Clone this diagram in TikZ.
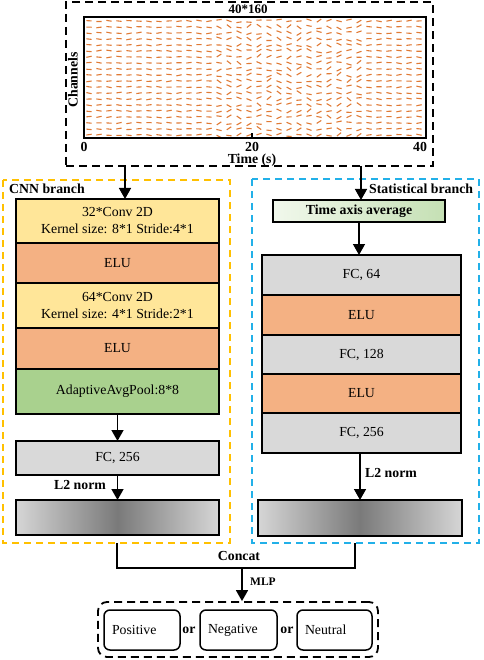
\documentclass[tikz,border=0pt]{standalone}
\usepackage{fontspec}
\setmainfont{Liberation Serif}
\usetikzlibrary{arrows.meta}
\definecolor{convY}{HTML}{FFE699}
\definecolor{eluO}{HTML}{F4B183}
\definecolor{poolG}{HTML}{A9D18E}
\definecolor{fcG}{HTML}{D9D9D9}
\definecolor{cnnY}{HTML}{FFC000}
\definecolor{statB}{HTML}{22B0E8}
\definecolor{tavgL}{HTML}{F1F8EC}
\definecolor{tavgR}{HTML}{C5E0B4}
\definecolor{gradE}{HTML}{D6D6D6}
\definecolor{gradM}{HTML}{7A7A7A}
\definecolor{dashO}{HTML}{E07A35}
\newcommand\myfs{\fontsize{13.8}{17}\selectfont}
\newcommand\mybf{\fontsize{13.8}{15}\selectfont\bfseries}
\begin{document}
\begin{tikzpicture}[x=1pt,y=-1pt,
  blk/.style={draw=black, line width=1.2pt, inner sep=0pt, outer sep=0pt, align=center, font=\myfs},
  cnnw/.style={blk, minimum width=203pt},
  statw/.style={blk, minimum width=199pt},
  gradbox/.style={blk, shading=axis, left color=gradE, right color=gradE, middle color=gradM},
  lbl/.style={font=\mybf, inner sep=0pt},
  arr/.style={-{Triangle[length=11pt,width=12pt]}, line width=1.5pt},
  conn/.style={line width=1.5pt},
  outbox/.style={draw=black, line width=1.5pt, rounded corners=6pt, minimum height=40pt, inner xsep=8pt, inner ysep=0pt, align=left, font=\myfs},
  bigdash/.style={line width=1.8pt, dash pattern=on 8pt off 5pt}
]
\useasboundingbox (0,0) rectangle (483,660);

% ---------- top panel ----------
\node[draw=black, bigdash, minimum width=367pt, minimum height=164pt, inner sep=0pt] (top) at (249.5,84) {};
\node[draw=black, line width=1.5pt, minimum width=342pt, minimum height=121pt, inner sep=0pt] (plot) at (255,77.5) {};
\pgfmathsetseed{7}
\begin{scope}
\clip (85,18) rectangle (425,137);
\foreach \i in {0,...,19}{
  \foreach \j in {0,...,33}{
    \pgfmathsetmacro\ang{(\j>12 && \j<28) ? 40*rand : 12*rand}
    \pgfmathsetmacro\dy{(\j>12 && \j<28) ? 1.5*rand : 0.5*rand}
    \draw[dashO, line width=1.1pt] ({89+10*\j},{21+6*\i+\dy}) ++(\ang:-2.7) -- ++(\ang:5.4);
  }
}
\end{scope}
\draw[line width=1.2pt] (252,138) -- (252,133);
\node[lbl, font=\fontsize{13}{15}\selectfont\bfseries] (dims) at (248,9) {40*160};
\node[lbl, rotate=90] (chan) at (73,80) {Channels};
\node[lbl] (t0) at (84,146.5) {0};
\node[lbl] (t20) at (252,146.5) {20};
\node[lbl] (t40) at (420,146.5) {40};
\node[lbl] (tlab) at (252,160) {Time (s)};

% ---------- CNN branch ----------
\draw[cnnY, bigdash, dash pattern=on 7pt off 5pt] (3,180) rectangle (230,543);
\node[lbl, anchor=west] (cnnlab) at (9,189) {CNN branch};
\node[cnnw, fill=convY, minimum height=44pt] (conv1) at (117.5,221) {32*Conv 2D\\Kernel size: 8*1 Stride:4*1};
\node[cnnw, fill=eluO, minimum height=40pt] (elu1) at (117.5,263) {ELU};
\node[cnnw, fill=convY, minimum height=45pt] (conv2) at (117.5,305.5) {64*Conv 2D\\Kernel size: 4*1 Stride:2*1};
\node[cnnw, fill=eluO, minimum height=41pt] (elu2) at (117.5,348.5) {ELU};
\node[cnnw, fill=poolG, minimum height=45pt] (pool) at (117.5,391.5) {AdaptiveAvgPool:8*8};
\node[cnnw, fill=fcG, minimum height=34pt] (fc1) at (117.5,458) {FC, 256};
\node[cnnw, gradbox, minimum height=35pt] (g1) at (117.5,517.5) {};
\node[lbl] (l2a) at (80,485) {L2 norm};

% ---------- Statistical branch ----------
\draw[statB, bigdash, dash pattern=on 7pt off 5pt] (252,179) rectangle (479,543);
\node[lbl, anchor=west] (statlab) at (369,189) {Statistical branch};
\node[blk, font=\mybf, minimum width=172pt, minimum height=22pt, left color=tavgL, right color=tavgR] (tavg) at (359,211) {Time axis average};
\node[statw, fill=fcG, minimum height=40pt] (fc64) at (361.5,275) {FC, 64};
\node[statw, fill=eluO, minimum height=40pt] (elu3) at (361.5,315) {ELU};
\node[statw, fill=fcG, minimum height=39pt] (fc128) at (361.5,354.5) {FC, 128};
\node[statw, fill=eluO, minimum height=39pt] (elu4) at (361.5,393.5) {ELU};
\node[statw, fill=fcG, minimum height=40pt] (fc256) at (361.5,433) {FC, 256};
\node[gradbox, minimum width=204pt, minimum height=36pt] (g2) at (360,518) {};
\node[lbl] (l2b) at (391,473) {L2 norm};

% ---------- arrows ----------
\coordinate (inL) at (125,166);
\coordinate (inR) at (361,166);
\draw[arr] (inL) -- (inL |- conv1.north);
\draw[arr] (inR) -- (inR |- tavg.north);
\draw[arr] (pool.south) -- (fc1.north);
\draw[arr] (fc1.south) -- (g1.north);
\draw[arr] (tavg.south) -- (tavg.south |- fc64.north);
\draw[arr] (g2.north |- fc256.south) -- (g2.north);

% ---------- concat ----------
\coordinate (cL) at (117,543);
\coordinate (cR) at (355,543);
\coordinate (cM) at (242,568);
\draw[conn] (cL) |- (cM) -| (cR);
\node[lbl] (concat) at (239,556) {Concat};
\node[lbl, anchor=west, font=\fontsize{11.5}{13}\selectfont\bfseries] (mlp) at (250,582) {MLP};

% ---------- output ----------
\node[draw=black, line width=1.8pt, dash pattern=on 8pt off 5pt, rounded corners=9pt, minimum width=280pt, minimum height=55pt, inner sep=0pt] (out) at (238,629.5) {};
\draw[arr] (cM) -- (cM |- out.north);
\node[outbox, text width=60pt] (pos) at (142,630) {Positive};
\node[outbox, text width=61pt] (neg) at (238.5,630) {Negative};
\node[outbox, text width=59pt] (neu) at (334.5,630) {Neutral};
\node[lbl] (or1) at (189,630) {or};
\node[lbl] (or2) at (287,630) {or};
\end{tikzpicture}
\end{document}
